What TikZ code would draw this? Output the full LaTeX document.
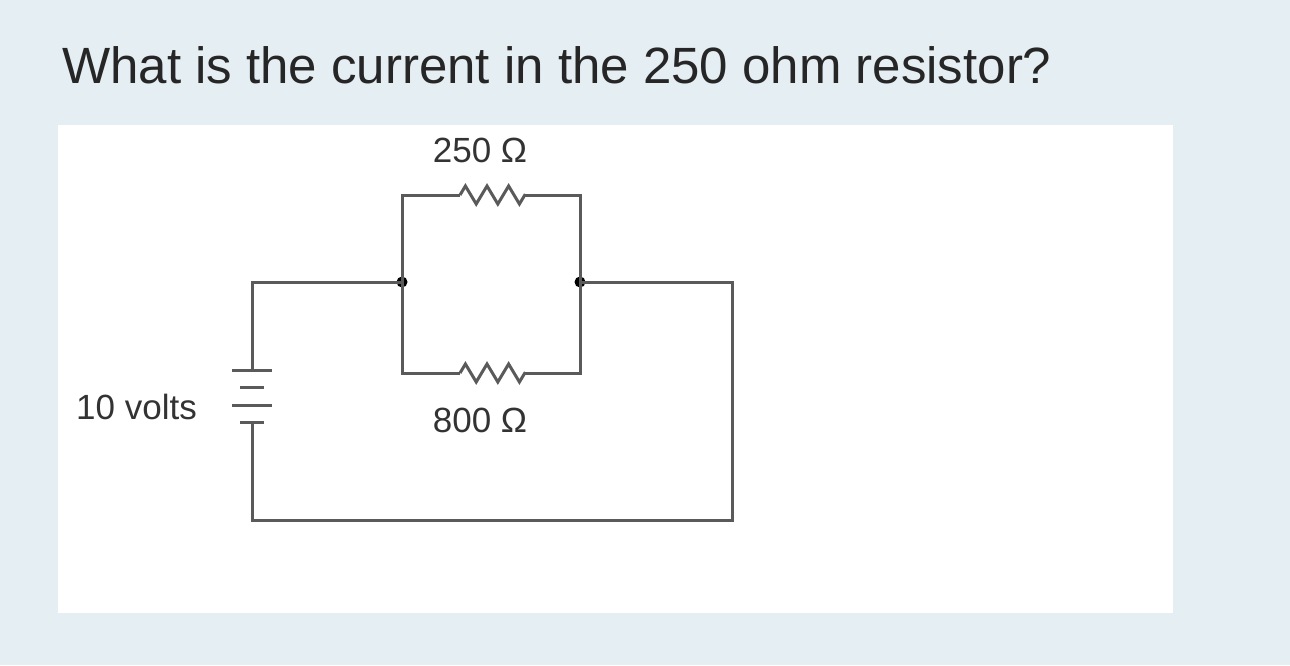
\documentclass[tikz,border=0pt]{standalone}
\usepackage{fontspec}
\setmainfont{Liberation Sans}
\usetikzlibrary{decorations.pathmorphing}
\definecolor{bgblue}{RGB}{228,238,243}
\definecolor{wire}{RGB}{90,90,90}
\begin{document}
\begin{tikzpicture}[x=1pt,y=1pt,yscale=-1,
    wire/.style={draw=wire,line width=3pt},
    resistor/.style={draw=wire,line width=3pt,decorate,decoration={zigzag,segment length=21.6,amplitude=9}},
    label/.style={font=\fontsize{35}{40}\selectfont,text=black!80,inner sep=0pt},
    junction/.style={circle,fill=black,inner sep=0pt,minimum size=11pt}]
        %background and panel
        \fill [bgblue] (0,0) rectangle (1290,665);
        \fill [white] (58,125) rectangle (1173,613);
        \useasboundingbox (0,0) rectangle (1290,665);

        % Title
        \node (title) at (62,65) [anchor=west,inner sep=0pt,font=\fontsize{51}{56}\selectfont,text=black!85] {What is the current in the 250 ohm resistor?};

        % Corners
        \coordinate (tl) at (252,282);
        \coordinate (bl) at (252,520);
        \coordinate (br) at (732,520);
        \coordinate (tr) at (732,282);
        \coordinate (ul) at (402,195);
        \coordinate (ur) at (580,195);
        \coordinate (dl) at (402,373);
        \coordinate (dr) at (580,373);
        \node [junction] (jl) at (402,282) {};
        \node [junction] (jr) at (580,282) {};

        % Resistor ends
        \coordinate (ra1) at (460,195);
        \coordinate (ra2) at (525,195);
        \coordinate (rb1) at (460,373);
        \coordinate (rb2) at (525,373);

        % Battery plates
        \coordinate (bt) at (252,370);
        \coordinate (bb) at (252,422);
        \draw [wire] (232,370) -- (272,370);
        \draw [wire] (240,387) -- (264,387);
        \draw [wire] (232,405) -- (272,405);
        \draw [wire] (240,422) -- (264,422);

        % Wires
        \draw [wire] (bt) -- (tl) -- (jl.center) -- (ul) -- (ra1);
        \draw [wire] (ra2) -- (ur) -- (jr.center) -- (dr) -- (rb2);
        \draw [wire] (rb1) -- (dl) -- (jl.center);
        \draw [wire] (jr.center) -- (tr) -- (br) -- (bl) -- (bb);
        \draw [resistor] (ra1) -- (ra2);
        \draw [resistor] (rb1) -- (rb2);

        % Text Nodes
        \node [label] (lab250) at (480,150) {250 Ω};
        \node [label] (lab800) at (480,420) {800 Ω};
        \node [label,anchor=east] (labv) at (197,407) {10 volts};
\end{tikzpicture}
\end{document}
